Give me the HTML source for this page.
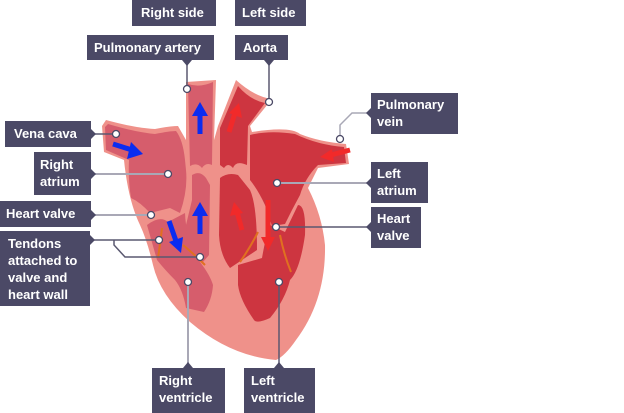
<!DOCTYPE html>
<html><head><meta charset="utf-8"><style>
html,body{margin:0;padding:0;background:#fff;width:624px;height:413px;overflow:hidden}
.b{position:absolute;background:#4b4966;color:#fff;font:bold 13px/17px "Liberation Sans",sans-serif;padding:4px 6px;box-sizing:border-box}
svg{position:absolute;left:0;top:0}
</style></head><body>
<svg width="624" height="413" viewBox="0 0 624 413">
<path fill="#ef918a" d="M102,126 L106,120 Q135,128 155,129 Q170,126 178,126 L186,140 L186,82 L216,80 L214,140 L218,126 L236,80 Q255,97 272,99 L250,126 L252,132 Q290,126 300,134 Q320,142 346,144 L349,164 L318,168 L308,188 Q322,215 325,245 Q326,300 296,340 Q285,356 276,360 Q230,356 190,322 Q160,295 153,265 Q147,240 140,225 Q128,200 124,160 L104,152 Z"/>
<path fill="#d65d6c" d="M105,127 L108,124 Q135,132 155,134 Q170,131 176,131 Q183,140 185,160 L186,170 Q188,190 180,213 L170,208 L150,213 Q140,202 131,198 Q128,180 129,160 L106,150 Z"/>
<path fill="#d65d6c" d="M147,225 Q160,215 168,222 L185,213 Q186,240 200,262 Q210,275 213,285 Q212,300 204,312 L186,308 Q183,290 175,280 Q165,270 157,260 Z"/>
<path fill="#d65d6c" d="M188,84 Q200,88 213,82 L212,165 Q206,162 202,168 Q197,162 190,166 Z"/>
<path fill="#d65d6c" d="M192,175 Q200,170 206,178 L210,185 L209,255 L203,262 L192,253 Q186,238 186,225 L192,200 Z"/>
<path fill="#cd3540" d="M220,165 L220,128 L238,86 Q250,100 265,103 L248,126 L247,165 Q236,160 233,168 Q228,162 224,168 Z"/>
<path fill="#cd3540" d="M250,135 Q270,130 295,134 Q318,145 344,147 L346,163 L318,165 Q305,178 300,195 L292,210 L285,224 L272,226 L265,205 Q258,190 250,180 Z"/>
<path fill="#cd3540" d="M220,178 Q228,172 238,175 L250,190 Q257,205 257,250 L245,258 L230,268 Q220,255 219,235 Z"/>
<path fill="#cd3540" d="M238,265 L262,258 Q266,235 270,225 L285,232 L298,205 Q306,205 305,235 Q300,270 290,280 Q285,300 270,318 Q257,324 254,320 Q240,300 238,285 Z"/>
<g stroke="#e07020" stroke-width="2" fill="none">
<path d="M162,228 Q160,245 158,258"/><path d="M183,245 Q195,255 205,265"/>
<path d="M258,232 Q250,248 240,262"/><path d="M280,235 Q284,255 291,272"/>
</g>
<g stroke-width="5" fill="none">
<line x1="113" y1="144" x2="132" y2="150" stroke="#0b2cf0"/>
<line x1="200" y1="134" x2="200" y2="113" stroke="#0b2cf0"/>
<line x1="200" y1="234" x2="200" y2="213" stroke="#0b2cf0"/>
<line x1="169" y1="221" x2="176" y2="241" stroke="#0b2cf0"/>
<line x1="229" y1="132" x2="235" y2="113" stroke="#f12a2a"/>
<line x1="350" y1="150" x2="331" y2="155" stroke="#f12a2a"/>
<line x1="242" y1="230" x2="237" y2="212" stroke="#f12a2a"/>
<line x1="268" y1="200" x2="268" y2="240" stroke="#f12a2a"/>
</g>
<g>
<polygon fill="#0b2cf0" points="143,154 127,159 131,142"/>
<polygon fill="#0b2cf0" points="200,102 208,116 192,116"/>
<polygon fill="#0b2cf0" points="200,202 208,216 192,216"/>
<polygon fill="#0b2cf0" points="181,253 169,242 183,237"/>
<polygon fill="#f12a2a" points="239,103 242,118 229,113"/>
<polygon fill="#f12a2a" points="320,157 332,149 334,162"/>
<polygon fill="#f12a2a" points="234,202 243,213 230,216"/>
<polygon fill="#f12a2a" points="268,251 261,237 275,237"/>
</g>
<g fill="none" stroke-width="1.5">
<line x1="187" y1="60" x2="187" y2="89" stroke="#5a5870"/>
<line x1="269" y1="60" x2="269" y2="102" stroke="#5a5870"/>
<line x1="91" y1="134" x2="116" y2="134" stroke="#5a5870"/>
<line x1="91" y1="174" x2="168" y2="174" stroke="#a9a8b6" stroke-width="2"/>
<line x1="91" y1="215" x2="151" y2="215" stroke="#a9a8b6" stroke-width="2"/>
<polyline points="90,240 159,240" stroke="#5a5870"/>
<polyline points="114,240 114,245 125,257 200,257" stroke="#5a5870"/>
<line x1="188" y1="282" x2="188" y2="368" stroke="#a9a8b6" stroke-width="2"/>
<line x1="279" y1="282" x2="279" y2="368" stroke="#5a5870"/>
<polyline points="371,113 352,113 340,125 340,139" stroke="#a9a8b6"/>
<line x1="277" y1="183" x2="371" y2="183" stroke="#a9a8b6" stroke-width="2"/>
<line x1="275" y1="227" x2="371" y2="227" stroke="#5a5870"/>
</g>
<g fill="#4b4966">
<polygon points="182,60 192,60 187,66"/><polygon points="264,60 274,60 269,66"/>
<polygon points="91,129 91,139 96,134"/><polygon points="91,169 91,179 96,174"/>
<polygon points="91,210 91,220 96,215"/><polygon points="90,235 90,245 95,240"/>
<polygon points="183,368 193,368 188,362"/><polygon points="274,368 284,368 279,362"/>
<polygon points="371,108 371,118 366,113"/><polygon points="371,178 371,188 366,183"/>
<polygon points="371,222 371,232 366,227"/>
</g>
<g fill="#fff" stroke="#4b4966" stroke-width="1.3">
<circle cx="187" cy="89" r="3.5"/><circle cx="269" cy="102" r="3.5"/><circle cx="116" cy="134" r="3.5"/>
<circle cx="168" cy="174" r="3.5"/><circle cx="151" cy="215" r="3.5"/><circle cx="159" cy="240" r="3.5"/>
<circle cx="200" cy="257" r="3.5"/><circle cx="188" cy="282" r="3.5"/><circle cx="279" cy="282" r="3.5"/>
<circle cx="277" cy="183" r="3.5"/><circle cx="276" cy="227" r="3.5"/><circle cx="340" cy="139" r="3.5"/>
</g>
</svg>
<div class="b" style="left:132px;top:0;width:84px;height:26px;padding-left:9px">Right side</div>
<div class="b" style="left:235px;top:0;width:71px;height:26px;padding-left:7px">Left side</div>
<div class="b" style="left:87px;top:35px;width:127px;height:25px;padding-left:7px">Pulmonary artery</div>
<div class="b" style="left:235px;top:35px;width:53px;height:25px;padding-left:8px">Aorta</div>
<div class="b" style="left:5px;top:121px;width:86px;height:26px;padding-left:9px">Vena cava</div>
<div class="b" style="left:34px;top:152px;width:57px;height:43px">Right atrium</div>
<div class="b" style="left:0;top:201px;width:91px;height:26px">Heart valve</div>
<div class="b" style="left:0;top:231px;width:90px;height:75px;padding-left:8px">Tendons attached to valve and heart wall</div>
<div class="b" style="left:371px;top:93px;width:87px;height:41px;padding-top:3px">Pulmonary vein</div>
<div class="b" style="left:371px;top:162px;width:57px;height:41px;padding-top:3px">Left atrium</div>
<div class="b" style="left:371px;top:207px;width:50px;height:41px;padding-top:3px">Heart valve</div>
<div class="b" style="left:152px;top:368px;width:73px;height:45px;padding-top:4px;padding-left:7px">Right ventricle</div>
<div class="b" style="left:244px;top:368px;width:71px;height:45px;padding-top:4px;padding-left:7px">Left ventricle</div>
</body></html>
